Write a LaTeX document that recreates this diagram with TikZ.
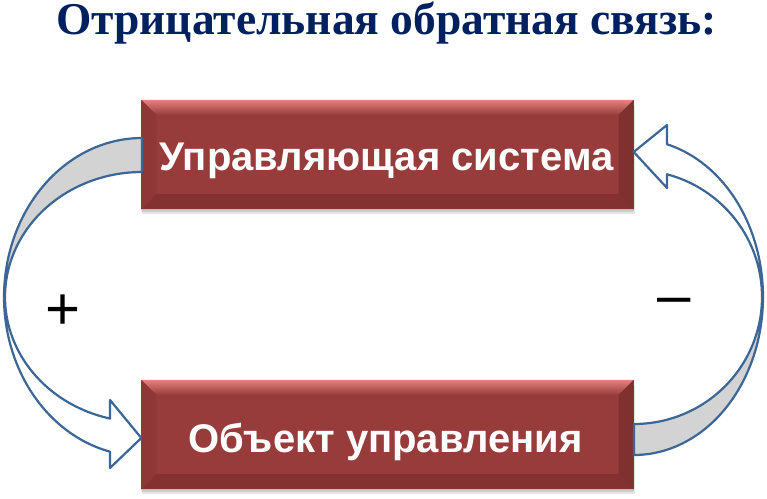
\documentclass[tikz,border=0pt]{standalone}
\usepackage{fontspec}
\setmainfont{Liberation Serif}
\newfontfamily\boxfont{Liberation Sans}
\usetikzlibrary{calc}
\definecolor{titleblue}{RGB}{0,32,96}
\definecolor{boxmain}{RGB}{152,60,59}
\definecolor{boxlight}{RGB}{228,130,128}
\definecolor{boxleft}{RGB}{142,55,54}
\definecolor{boxright}{RGB}{128,48,47}
\definecolor{boxbottom}{RGB}{132,50,49}
\definecolor{arrowblue}{RGB}{59,102,150}
\definecolor{arrowgrey}{RGB}{211,211,211}
\tikzset{
  redbox/.style={rectangle, fill=boxmain, minimum width=492pt, minimum height=109pt, inner sep=0pt},
  boxtext/.style={text=white, font=\boxfont\bfseries\fontsize{40}{48}\selectfont, inner sep=0pt, anchor=base},
  arrowline/.style={draw=arrowblue, line width=2.2pt, line join=round},
  signtext/.style={font=\boxfont\fontsize{60}{70}\selectfont, inner sep=0pt},
  titletext/.style={font=\bfseries\fontsize{45.5}{54}\selectfont, text=titleblue, inner sep=0pt, anchor=base},
}
\newcommand\bevelit[1]{%
  \fill[black, opacity=0.10] ($(#1.north west)+(1pt,-5pt)$) rectangle ($(#1.south east)+(1pt,-5pt)$);
  \fill[black, opacity=0.10] ($(#1.north west)+(0pt,-3pt)$) rectangle ($(#1.south east)+(0pt,-3pt)$);
  \fill[boxmain] (#1.north west) rectangle (#1.south east);
  \shade[top color=boxlight, bottom color=boxmain] (#1.north west) -- (#1.north east) -- ($(#1.north east)+(-15pt,-15pt)$) -- ($(#1.north west)+(15pt,-15pt)$) -- cycle;
  \fill[boxleft] (#1.north west) -- ($(#1.north west)+(15pt,-15pt)$) -- ($(#1.south west)+(15pt,15pt)$) -- (#1.south west) -- cycle;
  \fill[boxright] (#1.north east) -- ($(#1.north east)+(-15pt,-15pt)$) -- ($(#1.south east)+(-15pt,15pt)$) -- (#1.south east) -- cycle;
  \fill[boxbottom] (#1.south west) -- ($(#1.south west)+(15pt,15pt)$) -- ($(#1.south east)+(-15pt,15pt)$) -- (#1.south east) -- cycle;
}
\begin{document}
\begin{tikzpicture}[x=1pt, y=-1pt]
\useasboundingbox (0,0) rectangle (767,498);
\fill[white] (0,0) rectangle (767,498);

% title
\node[titletext] (title) at (386.5,34.5) {Отрицательная обратная связь:};

% boxes
\node[redbox] (ctrl) at (387.5,154.5) {};
\bevelit{ctrl}
\node[redbox] (obj) at (387.5,434.5) {};
\bevelit{obj}

\node[boxtext] (ctrltext) at (386.5,170) {Управляющая система};
\node[boxtext] (objtext) at (385.5,452) {Объект управления};

% left curved arrow (+)
\filldraw[arrowline, fill=arrowgrey]
  plot[domain=270:180, samples=50] ({142+138*cos(\x)},{297+159*sin(\x)})
  -- plot[domain=180:270, samples=50] ({142+137*cos(\x)},{297+125*sin(\x)}) -- cycle;
\filldraw[arrowline, fill=white]
  plot[domain=180:103.4, samples=50] ({142+138*cos(\x)},{297+159*sin(\x)})
  -- (110,468) -- (ctrl.west |- 0,438) -- (110,400)
  -- plot[domain=103.5:180, samples=50] ({142+137*cos(\x)},{297+125*sin(\x)}) -- cycle;

% right curved arrow (-)
\filldraw[arrowline, fill=arrowgrey]
  plot[domain=90:0, samples=50] ({634+129*cos(\x)},{297+158*sin(\x)})
  -- plot[domain=0:90, samples=50] ({634+128*cos(\x)},{297+127*sin(\x)}) -- cycle;
\filldraw[arrowline, fill=white]
  plot[domain=0:-75.18, samples=50] ({634+129*cos(\x)},{297+158*sin(\x)})
  -- (667,125) -- (ctrl.east |- 0,152) -- (667,188)
  -- plot[domain=-75.1:0, samples=50] ({634+128*cos(\x)},{297+127*sin(\x)}) -- cycle;

% signs
\node[signtext] (plus) at (63,312) {+};
\node[signtext] (minus) at (674,307) {–};
\end{tikzpicture}
\end{document}
